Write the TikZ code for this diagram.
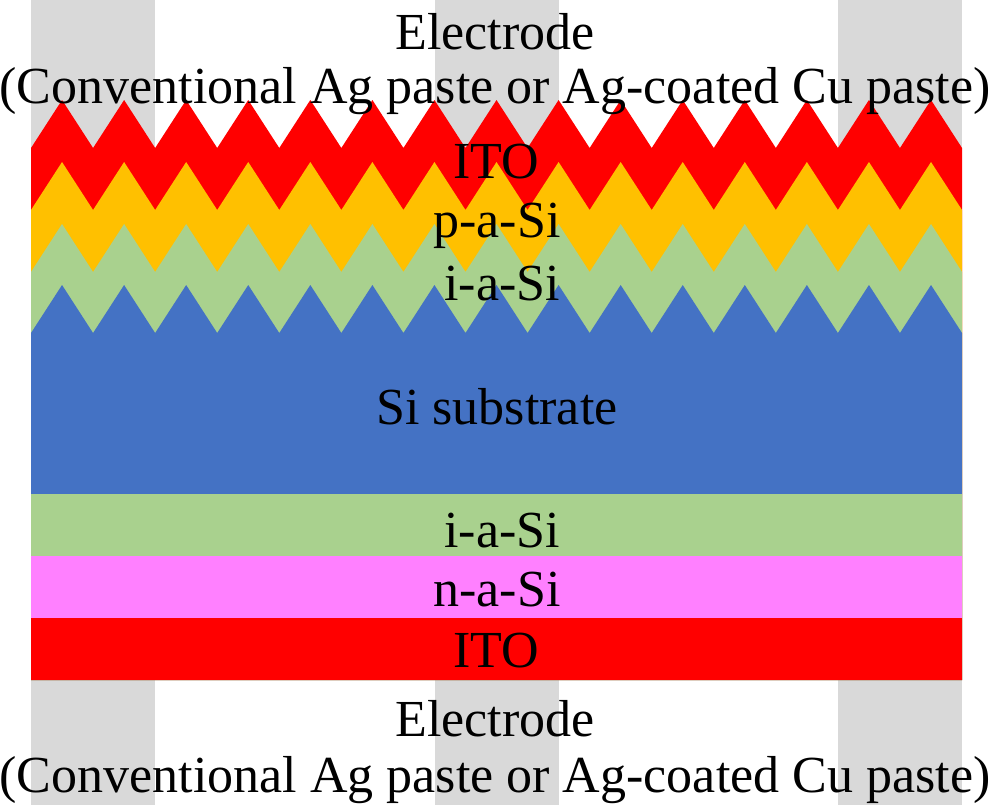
\documentclass[tikz,border=0pt]{standalone}
\usepackage{fontspec}
\setmainfont{Liberation Serif}
\definecolor{itored}{RGB}{255,0,0}
\definecolor{pcolor}{RGB}{255,192,0}
\definecolor{icolor}{RGB}{169,209,142}
\definecolor{sicolor}{RGB}{68,114,196}
\definecolor{ncolor}{RGB}{255,128,255}
\definecolor{pastegray}{RGB}{217,217,217}
\tikzset{
  label/.style={font=\fontsize{29.6}{35}\selectfont,text=black,inner sep=0pt,anchor=base},
}
\begin{document}
\begin{tikzpicture}[x=0.02cm,y=-0.02cm]
\def\p{62.07}
\def\h{48}
\useasboundingbox (0,0) rectangle (992,805);
% electrodes
\foreach \x in {31,435,838}
  \fill[pastegray] (\x,0) rectangle ++(124,805);
% textured layers, top one first
\foreach \c/\y in {itored/148,pcolor/210,icolor/272,sicolor/333}
  \fill[\c] (31,\y) \foreach \k in {1,...,15} {-- ++(\p/2,-\h) -- ++(\p/2,\h)} -- (962,680) -- (31,680) -- cycle;
% flat layers
\fill[icolor] (31,494) rectangle (962,556);
\fill[ncolor] (31,556) rectangle (962,618);
\fill[itored] (31,618) rectangle (962,680);
% labels
\node[label] (topelectrode) at (495,49) {Electrode};
\node[label] (toppaste) at (495,103) {(Conventional Ag paste or Ag-coated Cu paste)};
\node[label] (topito) at (496,178) {ITO};
\node[label] (pasi) at (497,237) {p-a-Si};
\node[label] (topiasi) at (502,300) {i-a-Si};
\node[label] (substrate) at (497,424) {Si substrate};
\node[label] (botiasi) at (502,547) {i-a-Si};
\node[label] (nasi) at (497,606) {n-a-Si};
\node[label] (botito) at (496,667) {ITO};
\node[label] (botelectrode) at (495,736) {Electrode};
\node[label] (botpaste) at (495,792) {(Conventional Ag paste or Ag-coated Cu paste)};
\end{tikzpicture}
\end{document}
